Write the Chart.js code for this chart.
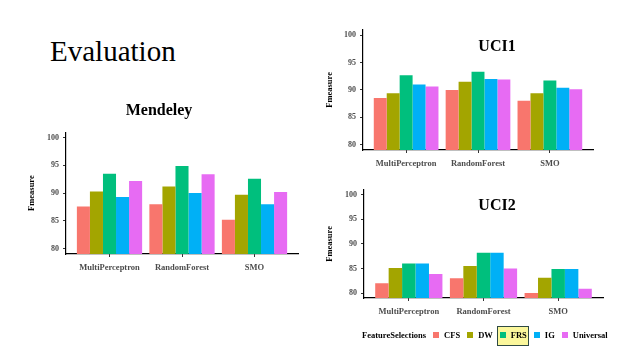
<!DOCTYPE html>
<html>
<head>
<meta charset="utf-8">
<script src="https://cdn.jsdelivr.net/npm/chart.js@4"></script>
<style>
  body { margin: 0; background: #fff; }
  #slide { position: relative; width: 638px; height: 359px; overflow: hidden; font-family: "Liberation Serif", "Times New Roman", serif; }
  canvas { position: absolute; }
  .heading { position: absolute; font-size: 29px; color: #000; }
  .subtitle { position: absolute; font-size: 16px; font-weight: bold; transform: translate(-50%, -50%); }
  #legend { position: absolute; left: 362px; top: 330px; font-size: 8.5px; font-weight: bold; white-space: nowrap; display: flex; align-items: center; }
  #legend .sw { display: inline-block; width: 6px; height: 6px; margin-left: 7px; margin-right: 5px; }
  #mark { position: absolute; left: 497px; top: 326px; width: 30px; height: 18px; background: #fbf79c; border: 1.5px solid #2f4a44; }
</style>
</head>
<body>
<div id="slide">
  <div class="heading" style="left:50px; top:35px;">Evaluation</div>
  <canvas id="mendeley" width="290" height="185" style="left:20px; top:95px;"></canvas>
  <canvas id="uci1" width="287" height="154" style="left:318px; top:21px;"></canvas>
  <div class="subtitle" style="left:497px; top:46px;">UCI1</div>
  <canvas id="uci2" width="297" height="144" style="left:318px; top:181px;"></canvas>
  <div class="subtitle" style="left:497px; top:205px;">UCI2</div>
  <div id="mark"></div>
  <div id="legend"></div>
</div>
<script>
const categories = ["MultiPerceptron", "RandomForest", "SMO"];
const selections = ["CFS", "DW", "FRS", "IG", "Universal"];
const yTicks = [80, 85, 90, 95, 100];

// one row per feature selection, one value per classifier
const mendeleyValues = [
  [87.6, 88.0, 85.2],
  [90.3, 91.2, 89.7],
  [93.5, 94.9, 92.6],
  [89.3, 90.0, 88.0],
  [92.2, 93.4, 90.2]
];
const uci1Values = [
  [88.5, 90.0, 88.0],
  [89.4, 91.5, 89.4],
  [92.7, 93.3, 91.7],
  [91.0, 92.0, 90.4],
  [90.6, 91.9, 90.1]
];
const uci2Values = [
  [82.0, 83.0, 80.0],
  [85.1, 85.5, 83.1],
  [86.0, 88.2, 84.9],
  [86.0, 88.2, 84.9],
  [83.9, 85.0, 80.9]
];

const colors = ["#F8766D", "#A3A500", "#00BF7D", "#00B0F6", "#E76BF3"];
const serif = "'Liberation Serif', 'Times New Roman', serif";

function drawChart(id, values, title, xHeight, yWidth) {
  const datasets = values.map((row, i) => ({
    label: selections[i],
    data: row.map((v, j) => ({ x: j + 1, y: v })),
    backgroundColor: colors[i],
    borderWidth: 0,
    categoryPercentage: 0.9,
    barPercentage: 1
  }));

  return new Chart(document.getElementById(id), {
    type: "bar",
    data: { datasets: datasets },
    options: {
      responsive: false,
      animation: false,
      layout: { padding: { top: 0, right: 12, left: 0, bottom: 0 } },
      plugins: {
        legend: { display: false },
        tooltip: { enabled: false },
        title: {
          display: !!title,
          text: title,
          font: { family: serif, size: 16, weight: "bold" },
          color: "#000",
          padding: { top: 6, bottom: 12 }
        }
      },
      scales: {
        x: {
          type: "linear",
          min: 0.4,
          max: 3.6,
          offset: false,
          afterBuildTicks: s => { s.ticks = categories.map((c, i) => ({ value: i + 1 })); },
          afterFit: s => { s.height = xHeight; },
          ticks: {
            autoSkip: false,
            maxRotation: 0,
            padding: 6,
            color: "#4d4d4d",
            font: { family: serif, size: 8.5, weight: "bold" },
            callback: v => categories[v - 1]
          },
          grid: { offset: false, drawOnChartArea: false, drawTicks: true, tickLength: 3, color: "#333" },
          border: { display: true, color: "#000", width: 1.2 }
        },
        y: {
          min: 79,
          max: 101,
          afterBuildTicks: s => { s.ticks = yTicks.map(v => ({ value: v })); },
          afterFit: s => { s.width = yWidth; },
          ticks: {
            padding: 4,
            color: "#4d4d4d",
            font: { family: serif, size: 8, weight: "bold" }
          },
          title: {
            display: true,
            text: "Fmeasure",
            color: "#000",
            font: { family: serif, size: 8.5, weight: "bold" },
            padding: { top: 7, bottom: 0 }
          },
          grid: { drawOnChartArea: false, drawTicks: true, tickLength: 3, color: "#333" },
          border: { display: true, color: "#000", width: 1.2 }
        }
      }
    }
  });
}

drawChart("mendeley", mendeleyValues, "Mendeley", 26, 46);
drawChart("uci1", uci1Values, "", 25, 45);
drawChart("uci2", uci2Values, "", 27, 46);

// legend built from the same series names and colours
const legend = document.getElementById("legend");
legend.innerHTML = "<span>FeatureSelections</span>" + selections.map((s, i) =>
  '<span class="sw" style="background:' + colors[i] + '"></span><span>' + s + '</span>'
).join("");
</script>
</body>
</html>
